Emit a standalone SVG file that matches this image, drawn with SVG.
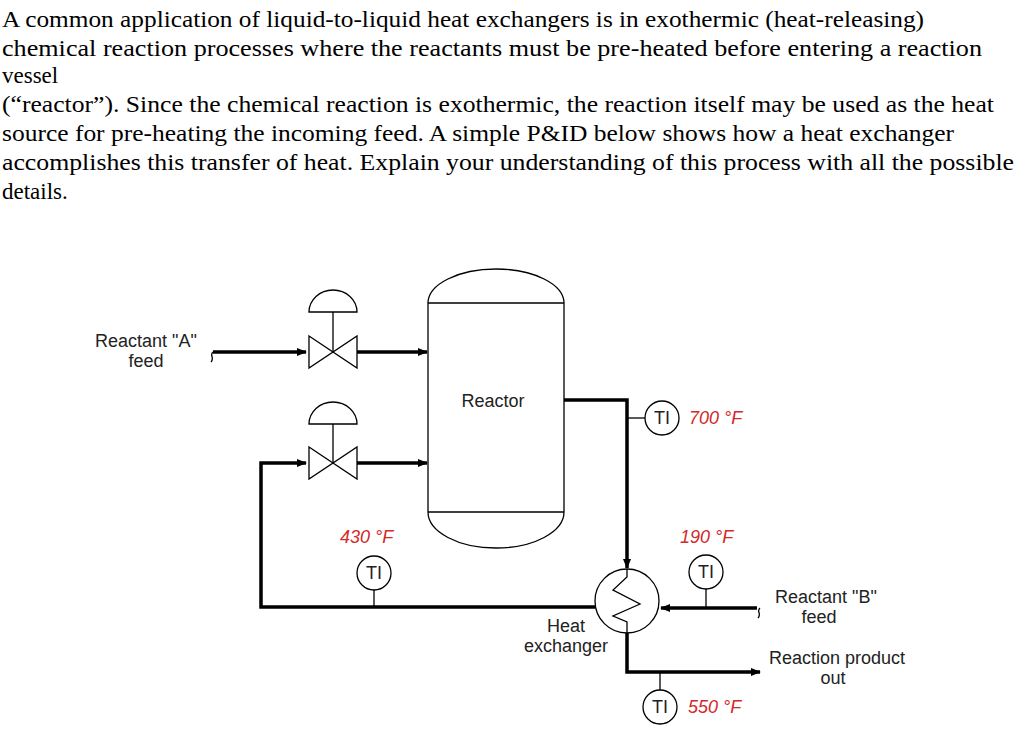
<svg xmlns="http://www.w3.org/2000/svg" width="1024" height="741" viewBox="0 0 1024 741">
<style>
.q{font-family:"Liberation Serif",serif;font-size:23px;fill:#000}
.l{font-family:"Liberation Sans",Arial,sans-serif;font-size:18px;fill:#222}
.t{font-family:"Liberation Sans",Arial,sans-serif;font-size:18px;fill:#d42a2a;font-style:italic}
.thin{stroke:#000;stroke-width:1.3;fill:none}
.pipe{stroke:#000;stroke-width:3.5;fill:none}
.ti{stroke:#000;stroke-width:1.3;fill:#fff}
</style>
<defs><marker id="a" markerWidth="10" markerHeight="8" refX="9" refY="4" orient="auto" markerUnits="userSpaceOnUse"><path d="M0,0L10,4L0,8z" fill="#000"/></marker></defs>
<rect width="1024" height="741" fill="#fff"/>
<g id="question">
<text class="q" x="2" y="27" textLength="922" lengthAdjust="spacingAndGlyphs">A common application of liquid-to-liquid heat exchangers is in exothermic (heat-releasing)</text>
<text class="q" x="2" y="56" textLength="980" lengthAdjust="spacingAndGlyphs">chemical reaction processes where the reactants must be pre-heated before entering a reaction</text>
<text class="q" x="2" y="83">vessel</text>
<text class="q" x="2" y="112" textLength="992" lengthAdjust="spacingAndGlyphs">(“reactor”). Since the chemical reaction is exothermic, the reaction itself may be used as the heat</text>
<text class="q" x="2" y="141" textLength="952" lengthAdjust="spacingAndGlyphs">source for pre-heating the incoming feed. A simple P&amp;ID below shows how a heat exchanger</text>
<text class="q" x="2" y="170" textLength="1012" lengthAdjust="spacingAndGlyphs">accomplishes this transfer of heat. Explain your understanding of this process with all the possible</text>
<text class="q" x="2" y="199">details.</text>
</g>
<g id="connectors">
<path class="pipe" d="M213,352H306" marker-end="url(#a)"/>
<path class="pipe" d="M357,352H427" marker-end="url(#a)"/>
<path class="pipe" d="M595,607H261V463H306" marker-end="url(#a)"/>
<path class="pipe" d="M357,463H427" marker-end="url(#a)"/>
<path class="pipe" d="M564,400H627V568" marker-end="url(#a)"/>
<path class="pipe" d="M757,608H661" marker-end="url(#a)"/>
<path class="pipe" d="M627,633V672H760" marker-end="url(#a)"/>
<path class="thin" d="M213,352c-4,3 2,6 -2,10M760,608c-4,3 2,6 -2,10"/>
</g>
<g id="valveA"><path class="thin" d="M309,336L357,368V336L309,368z" fill="#fff"/><path class="thin" d="M333,352V312M309,312A24,22 0 0 1 357,312z"/></g>
<g id="valveB"><path class="thin" d="M309,447L357,479V447L309,479z" fill="#fff"/><path class="thin" d="M333,463V424M309,424A24,22 0 0 1 357,424z"/></g>
<g id="reactor"><path class="thin" d="M428,303V512A68,36 0 0 0 564,512V303A68,34 0 0 0 428,303M428,303H564M428,512H564" /><text class="l" x="493" y="407" text-anchor="middle">Reactor</text></g>
<g id="hx"><circle class="ti" cx="627" cy="601" r="32"/><path class="thin" d="M627,569V577L613,590L640,604L613,616L627,622V633"/></g>
<g id="ti700"><path class="thin" d="M627,418H645"/><circle class="ti" cx="662" cy="418" r="17"/><text class="l" x="662" y="424" text-anchor="middle">TI</text><text class="t" x="689" y="424">700 °F</text></g>
<g id="ti190"><path class="thin" d="M706,589V608"/><circle class="ti" cx="706" cy="572" r="17"/><text class="l" x="706" y="578" text-anchor="middle">TI</text><text class="t" x="680" y="543">190 °F</text></g>
<g id="ti430"><path class="thin" d="M374,590V607"/><circle class="ti" cx="374" cy="573" r="17"/><text class="l" x="374" y="579" text-anchor="middle">TI</text><text class="t" x="340" y="543">430 °F</text></g>
<g id="ti550"><path class="thin" d="M660,672V690"/><circle class="ti" cx="660" cy="707" r="17"/><text class="l" x="660" y="713" text-anchor="middle">TI</text><text class="t" x="688" y="713">550 °F</text></g>
<g id="labels">
<text class="l" x="146" y="347" text-anchor="middle">Reactant "A"</text><text class="l" x="146" y="367" text-anchor="middle">feed</text>
<text class="l" x="566" y="632" text-anchor="middle">Heat</text><text class="l" x="566" y="652" text-anchor="middle">exchanger</text>
<text class="l" x="826" y="603" text-anchor="middle">Reactant "B"</text><text class="l" x="819" y="623" text-anchor="middle">feed</text>
<text class="l" x="837" y="664" text-anchor="middle">Reaction product</text><text class="l" x="833" y="684" text-anchor="middle">out</text>
</g>
</svg>
